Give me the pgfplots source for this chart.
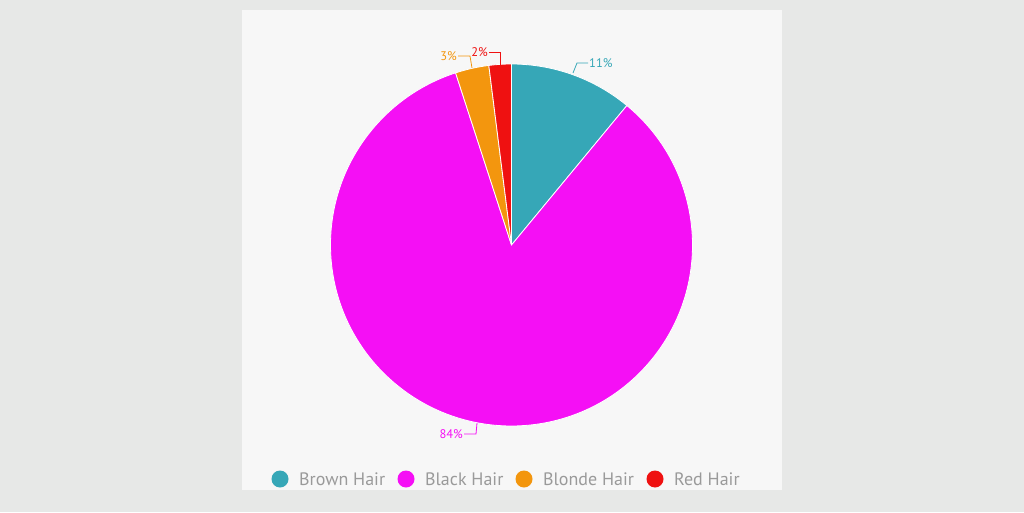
\documentclass[border=0pt]{standalone}
\usepackage{pgfplots}
\pgfplotsset{compat=1.18}
\usepackage{fontspec}
\setmainfont{PT Sans}
\definecolor{bgout}{HTML}{E7E8E7}
\definecolor{panel}{HTML}{F7F7F7}
\definecolor{cBrown}{HTML}{36A7B7}
\definecolor{cBlack}{HTML}{F50FF5}
\definecolor{cBlonde}{HTML}{F3960E}
\definecolor{cRed}{HTML}{EF1111}
\definecolor{legtxt}{HTML}{9A9A9A}
% data (percent)
\def\vBrown{11}
\def\vBlack{84}
\def\vBlonde{3}
\def\vRed{2}
\pgfmathsetmacro\aA{90}
\pgfmathsetmacro\aB{\aA-3.6*\vBrown}
\pgfmathsetmacro\aC{\aB-3.6*\vBlack}
\pgfmathsetmacro\aD{\aC-3.6*\vBlonde}
\pgfmathsetmacro\aE{\aD-3.6*\vRed}
\def\cx{511.5}
\def\cy{267}
\def\R{181}
\begin{document}
\begin{tikzpicture}
\begin{axis}[x=1pt,y=1pt,xmin=0,xmax=1024,ymin=0,ymax=512,
  hide axis, scale only axis, width=1024pt, height=512pt, clip=false]
\fill[bgout] (axis cs:0,0) rectangle (axis cs:1024,512);
\fill[panel] (axis cs:242,22) rectangle (axis cs:782,502);
% slices
\filldraw[cBrown, draw=white, line width=0.8pt, line join=round] (axis cs:\cx,\cy) -- ++(\aA:\R pt) arc[start angle=\aA, end angle=\aB, radius=\R pt] -- cycle;
\filldraw[cBlack, draw=white, line width=0.8pt, line join=round] (axis cs:\cx,\cy) -- ++(\aB:\R pt) arc[start angle=\aB, end angle=\aC, radius=\R pt] -- cycle;
\filldraw[cBlonde, draw=white, line width=0.8pt, line join=round] (axis cs:\cx,\cy) -- ++(\aC:\R pt) arc[start angle=\aC, end angle=\aD, radius=\R pt] -- cycle;
\filldraw[cRed, draw=white, line width=0.8pt, line join=round] (axis cs:\cx,\cy) -- ++(\aD:\R pt) arc[start angle=\aD, end angle=\aE, radius=\R pt] -- cycle;
% leader lines and labels
\draw[cBrown, line width=0.8pt] (axis cs:573,439) -- (axis cs:577,449) -- (axis cs:588,449);
\node[cBrown, anchor=west, inner sep=0pt, font=\fontsize{12.5}{12.5}\selectfont] at (axis cs:589,449) {\vBrown\%};
\draw[cRed, line width=0.8pt] (axis cs:500,447) -- (axis cs:500,460) -- (axis cs:489,460);
\node[cRed, anchor=east, inner sep=0pt, font=\fontsize{12.5}{12.5}\selectfont] at (axis cs:488,460) {\vRed\%};
\draw[cBlonde, line width=0.8pt] (axis cs:472,444) -- (axis cs:470,456) -- (axis cs:458,456);
\node[cBlonde, anchor=east, inner sep=0pt, font=\fontsize{12.5}{12.5}\selectfont] at (axis cs:457,456) {\vBlonde\%};
\draw[cBlack, line width=0.8pt] (axis cs:477,89) -- (axis cs:476,78) -- (axis cs:464,78);
\node[cBlack, anchor=east, inner sep=0pt, font=\fontsize{12.5}{12.5}\selectfont] at (axis cs:463,78) {\vBlack\%};
% legend
\fill[cBrown] (axis cs:280,33) circle[radius=8.5pt];
\node[legtxt, anchor=west, inner sep=0pt, font=\fontsize{18}{18}\selectfont] at (axis cs:299,33) {Brown Hair};
\fill[cBlack] (axis cs:406,33) circle[radius=8.5pt];
\node[legtxt, anchor=west, inner sep=0pt, font=\fontsize{18}{18}\selectfont] at (axis cs:425,33) {Black Hair};
\fill[cBlonde] (axis cs:524,33) circle[radius=8.5pt];
\node[legtxt, anchor=west, inner sep=0pt, font=\fontsize{18}{18}\selectfont] at (axis cs:543,33) {Blonde Hair};
\fill[cRed] (axis cs:655,33) circle[radius=8.5pt];
\node[legtxt, anchor=west, inner sep=0pt, font=\fontsize{18}{18}\selectfont] at (axis cs:674,33) {Red Hair};
\end{axis}
\end{tikzpicture}
\end{document}
